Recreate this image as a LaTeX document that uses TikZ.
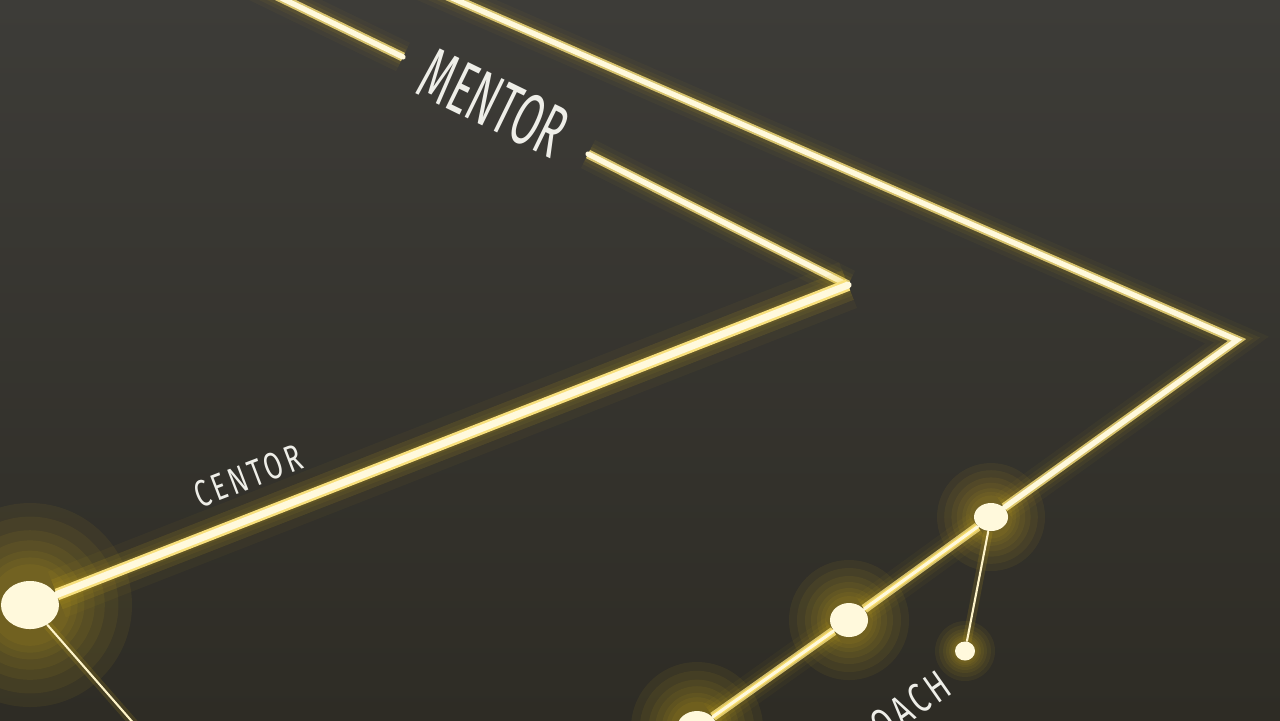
\documentclass[tikz,border=0pt]{standalone}
\usepackage{fontspec}
\newfontfamily\mentorfont[FakeStretch=0.55]{Fira Sans}
\newfontfamily\tagfont[FakeStretch=0.7,LetterSpace=10]{Fira Sans}
\usetikzlibrary{shapes.geometric}
\pgfdeclarelayer{back}
\pgfsetlayers{back,main}

\definecolor{bgtop}{HTML}{3D3C38}
\definecolor{bgbottom}{HTML}{2E2C25}
\definecolor{glow}{HTML}{F2C81C}
\definecolor{core}{HTML}{FFF9DC}
\definecolor{tagtext}{HTML}{EEEEE8}

\begin{document}
\begin{tikzpicture}[x=0.01cm,y=-0.01cm]
   \useasboundingbox (0,0) rectangle (1280,720);
   \tikzstyle{wire}=[line cap=round, draw=core, line width=1.5pt,
      preaction={draw=glow, line width=9pt, opacity=0.035},
      preaction={draw=glow, line width=6.5pt, opacity=0.05},
      preaction={draw=glow, line width=4.5pt, opacity=0.08},
      preaction={draw=glow!50!core, line width=2.6pt, opacity=0.8}]
   \tikzstyle{brightwire}=[wire, line width=2pt,
      preaction={draw=glow, line width=14pt, opacity=0.04},
      preaction={draw=glow, line width=9pt, opacity=0.07},
      preaction={draw=glow!50!core, line width=3.4pt}]
   \tikzstyle{softwire}=[wire, line width=0.9pt,
      preaction={draw=glow!60!core, line width=1.6pt}]
   \tikzstyle{hairwire}=[line cap=round, draw=core!90!glow, line width=0.6pt,
      preaction={draw=glow, line width=2.6pt, opacity=0.12}]
   \tikzstyle{dot}=[ellipse, fill=core, inner sep=0pt]
   \tikzstyle{tag}=[text=tagtext, inner sep=0pt]

   % dots
   \node[dot, minimum width=5.8mm, minimum height=4.8mm] (hub) at (30,605) {};
   \node[dot, minimum width=3.4mm, minimum height=2.8mm] (top) at (991,517) {};
   \node[dot, minimum width=3.8mm, minimum height=3.4mm] (mid) at (849,620) {};
   \node[dot, minimum width=4mm, minimum height=3.4mm] (low) at (697,728) {};
   \node[dot, minimum width=2mm, minimum height=1.9mm] (tip) at (965,651) {};

   % labels
   \node[tag, rotate=-26, font=\mentorfont\fontsize{21pt}{21pt}\selectfont] (mentor) at (494,103) {MENTOR};
   \node[tag, rotate=21, font=\tagfont\fontsize{10.7pt}{11pt}\selectfont] (centor) at (248,476) {CENTOR};
   \node[tag, rotate=35, font=\tagfont\fontsize{12pt}{12pt}\selectfont] (coach) at (902,711) {COACH};

   \coordinate (innerStart) at (240,-22);
   \coordinate (mentorIn) at (403,57);
   \coordinate (mentorOut) at (588,154);
   \coordinate (innerApex) at (848,285);
   \coordinate (innerEnd) at (150,742);
   \coordinate (outerStart) at (420,-16);
   \coordinate (outerApex) at (1237,340);

   \begin{pgfonlayer}{back}
      \shade[top color=bgtop, bottom color=bgbottom] (0,0) rectangle (1280,720);
      \foreach \n/\r in {hub/34, top/18, mid/20, low/22, tip/10} {
         \foreach \s in {3,2.6,2.2,1.9,1.6,1.4,1.2}
            \fill[glow, opacity=0.06] (\n) circle[radius=\s*\r];
      }
      \draw[wire] (innerStart) -- (mentorIn);
      \draw[wire] (mentorOut) -- (innerApex);
      \draw[brightwire] (innerApex) -- (hub);
      \draw[hairwire] (hub) -- (innerEnd);
      \draw[wire] (outerStart) -- (outerApex) -- (top);
      \draw[softwire] (top) -- (mid) -- (low);
      \draw[hairwire] (top) -- (tip);
   \end{pgfonlayer}
\end{tikzpicture}
\end{document}
